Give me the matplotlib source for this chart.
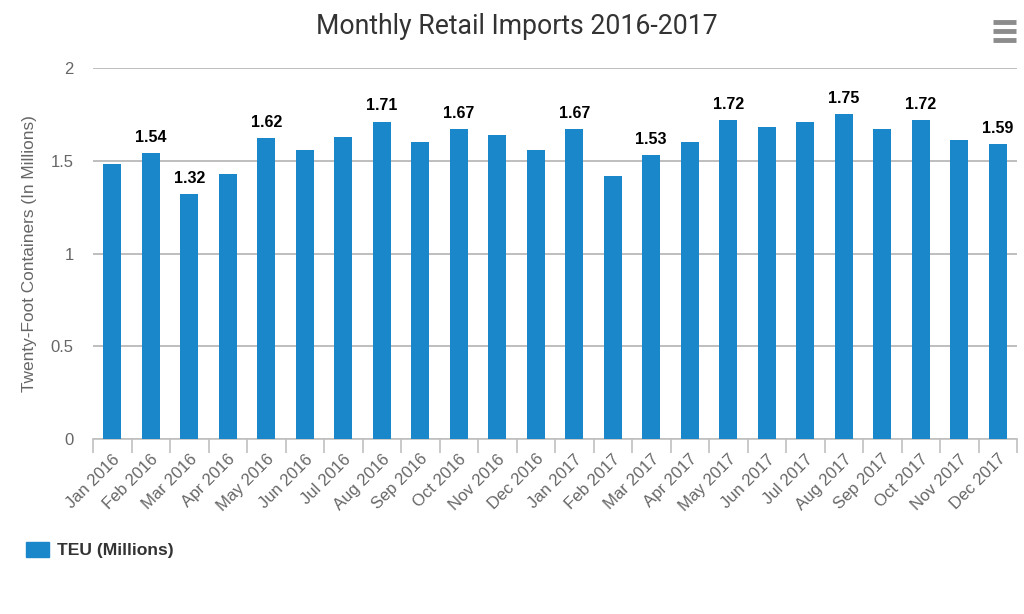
import matplotlib
matplotlib.use("Agg")
import matplotlib.pyplot as plt
from matplotlib.lines import Line2D
from matplotlib.patches import Patch

months = ["Jan 2016", "Feb 2016", "Mar 2016", "Apr 2016", "May 2016", "Jun 2016",
          "Jul 2016", "Aug 2016", "Sep 2016", "Oct 2016", "Nov 2016", "Dec 2016",
          "Jan 2017", "Feb 2017", "Mar 2017", "Apr 2017", "May 2017", "Jun 2017",
          "Jul 2017", "Aug 2017", "Sep 2017", "Oct 2017", "Nov 2017", "Dec 2017"]
teu = [1.48, 1.54, 1.32, 1.43, 1.62, 1.56, 1.63, 1.71, 1.60, 1.67, 1.64, 1.56,
       1.67, 1.42, 1.53, 1.60, 1.72, 1.68, 1.71, 1.75, 1.67, 1.72, 1.61, 1.59]
labeled = ["Feb 2016", "Mar 2016", "May 2016", "Aug 2016", "Oct 2016", "Jan 2017",
           "Mar 2017", "May 2017", "Aug 2017", "Oct 2017", "Dec 2017"]
yticks = [0, 0.5, 1, 1.5, 2]
ytick_labels = ["0", "0.5", "1", "1.5", "2"]

plt.rcParams['font.family'] = ['Liberation Sans', 'DejaVu Sans']

fig = plt.figure(figsize=(10.24, 6.14), dpi=100)
ax = fig.add_axes([93/1024, 1 - 439/614, (1017-93)/1024, (439-68)/614])

color = "#1b87cb"
x = list(range(len(months)))
ax.bar(x, teu, width=0.46, color=color, zorder=3)

for xi, m, v in zip(x, months, teu):
    if m in labeled:
        ax.annotate(f"{v:.2f}", (xi, v), xytext=(0, 6), textcoords="offset points",
                    ha="center", va="bottom", fontsize=11.5, fontweight="bold", color="black")

ax.set_xlim(-0.5, len(months) - 0.5)
ax.set_ylim(0, 2)
ax.set_yticks(yticks)
ax.set_yticklabels(ytick_labels)
ax.yaxis.grid(True, color="#b3b3b3", linewidth=1.2, zorder=0)
ax.tick_params(axis="y", length=0, pad=14, labelsize=12, labelcolor="#666666")

ax.set_xticks(x)
ax.set_xticklabels(months, rotation=45, ha="right", rotation_mode="anchor",
                   fontsize=12, color="#666666")
ax.tick_params(axis="x", which="major", length=0, pad=9)
ax.set_xticks([i - 0.5 for i in range(len(months) + 1)], minor=True)
ax.tick_params(axis="x", which="minor", length=10, width=1.2, color="#c0c0c0", direction="out")

for s in ["top", "right", "left"]:
    ax.spines[s].set_visible(False)
ax.spines["bottom"].set_color("#c0c0c0")
ax.spines["bottom"].set_linewidth(1.2)

ax.set_ylabel("Twenty-Foot Containers (In Millions)", fontsize=12.4, color="#666666", labelpad=10)

fig.text(0.505, 1 - 26/614, "Monthly Retail Imports 2016-2017", ha="center", va="center",
         fontsize=19.2, color="#333333", family=["Roboto", "DejaVu Sans"])

# menu icon
for yy in [22, 31, 40]:
    fig.add_artist(Line2D([993/1024, 1016/1024], [1 - yy/614, 1 - yy/614],
                          color="#8c8c8c", linewidth=3.5, solid_capstyle="butt"))

fig.legend(handles=[Patch(facecolor=color, edgecolor=color, label="TEU (Millions)")],
           loc="center left", bbox_to_anchor=(10/1024, 1 - 550/614), frameon=False,
           prop={"size": 12.6, "weight": "bold"}, handlelength=1.3, handleheight=1.0,
           handletextpad=0.5, labelcolor="#333333")

fig.savefig("out.png", dpi=100)
